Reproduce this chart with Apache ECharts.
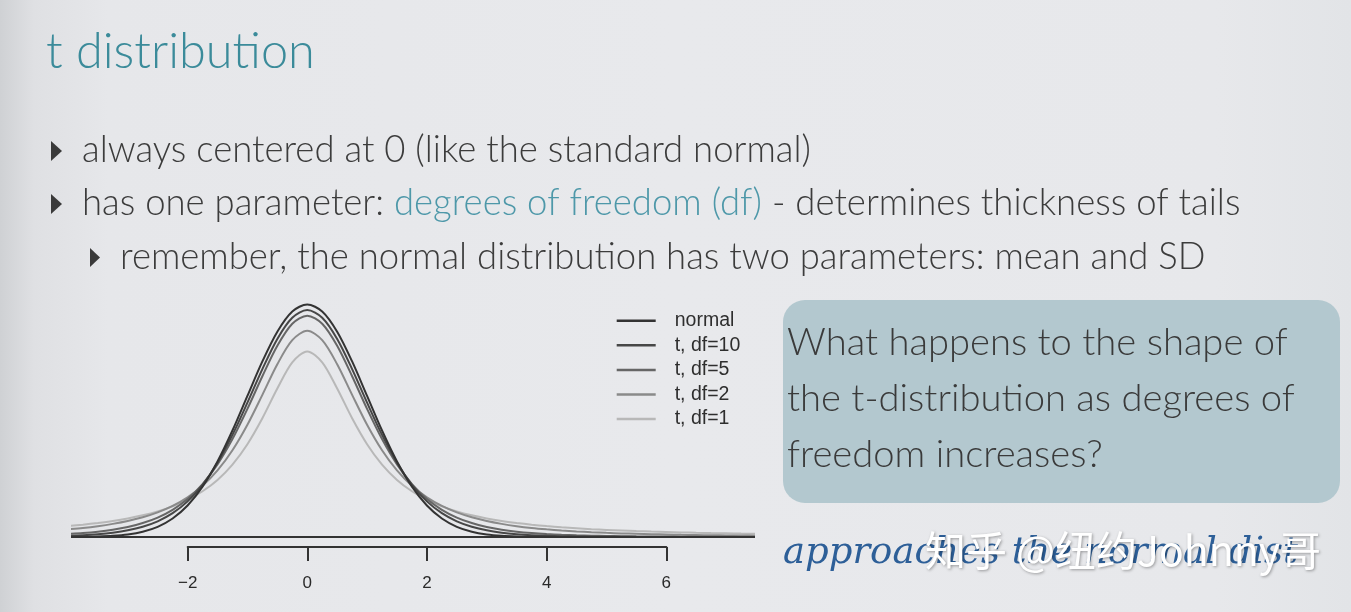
<!DOCTYPE html>
<html>
<head>
<meta charset="utf-8">
<script src="https://cdn.jsdelivr.net/npm/echarts@6/dist/echarts.min.js"></script>
<style>
html,body{margin:0;padding:0;}
#c{width:1351px;height:612px;background:linear-gradient(90deg,#cfd1d4 0%,#dfe0e3 2.5%,#e6e7ea 8%,#e8e9ec 50%,#e7e8eb 90%,#e2e4e7 100%);}
</style>
</head>
<body>
<div id="c"></div>
<script>
// x positions (standard units)
var xs = [-4,-3.75,-3.5,-3.25,-3,-2.75,-2.5,-2.25,-2,-1.75,-1.5,-1.25,-1,-0.75,-0.5,-0.25,
          0,0.25,0.5,0.75,1,1.25,1.5,1.75,2,2.25,2.5,2.75,3,3.25,3.5,3.75,4,
          4.25,4.5,4.75,5,5.25,5.5,5.75,6,6.25,6.5,6.75,7,7.25,7.5];

// density values
var normalVals = [0.0001,0.0004,0.0009,0.0020,0.0044,0.0091,0.0175,0.0317,0.0540,0.0863,0.1295,0.1826,0.2420,0.3011,0.3521,0.3867,
                  0.3989,0.3867,0.3521,0.3011,0.2420,0.1826,0.1295,0.0863,0.0540,0.0317,0.0175,0.0091,0.0044,0.0020,0.0009,0.0004,0.0001,
                  0,0,0,0,0,0,0,0,0,0,0,0,0,0];
var df10Vals = [0.0020,0.0031,0.0048,0.0074,0.0114,0.0176,0.0269,0.0409,0.0611,0.0895,0.1274,0.1751,0.2304,0.2880,0.3397,0.3760,
                0.3891,0.3760,0.3397,0.2880,0.2304,0.1751,0.1274,0.0895,0.0611,0.0409,0.0269,0.0176,0.0114,0.0074,0.0048,0.0031,0.0020,
                0.0013,0.0009,0.0006,0.0004,0.0003,0.0002,0.0001,0.0001,0.0001,0.0001,0,0,0,0];
var df5Vals = [0.0051,0.0068,0.0092,0.0126,0.0173,0.0239,0.0333,0.0466,0.0651,0.0905,0.1245,0.1679,0.2197,0.2757,0.3279,0.3657,
               0.3796,0.3657,0.3279,0.2757,0.2197,0.1679,0.1245,0.0905,0.0651,0.0466,0.0333,0.0239,0.0173,0.0126,0.0092,0.0068,0.0051,
               0.0039,0.0029,0.0023,0.0018,0.0014,0.0011,0.0009,0.0007,0.0006,0.0004,0.0004,0.0003,0.0002,0.0002];
var df2Vals = [0.0131,0.0155,0.0186,0.0225,0.0274,0.0338,0.0422,0.0533,0.0680,0.0878,0.1141,0.1487,0.1925,0.2438,0.2963,0.3376,
               0.3536,0.3376,0.2963,0.2438,0.1925,0.1487,0.1141,0.0878,0.0680,0.0533,0.0422,0.0338,0.0274,0.0225,0.0186,0.0155,0.0131,
               0.0111,0.0095,0.0082,0.0071,0.0062,0.0055,0.0048,0.0043,0.0038,0.0034,0.0030,0.0027,0.0025,0.0022];
var df1Vals = [0.0187,0.0212,0.0241,0.0275,0.0318,0.0372,0.0439,0.0525,0.0637,0.0784,0.0979,0.1242,0.1592,0.2037,0.2546,0.2996,
               0.3183,0.2996,0.2546,0.2037,0.1592,0.1242,0.0979,0.0784,0.0637,0.0525,0.0439,0.0372,0.0318,0.0275,0.0241,0.0212,0.0187,
               0.0167,0.0150,0.0134,0.0122,0.0111,0.0101,0.0093,0.0086,0.0079,0.0073,0.0068,0.0064,0.0059,0.0056];

var seriesNames = ['normal','t, df=10','t, df=5','t, df=2','t, df=1'];
var seriesColors = ['#333333','#474747','#666666','#8a8a8a','#b8b8b8'];
var tickLabels = ['\u22122','0','2','4','6'];
var tickValues = [-2,0,2,4,6];

function pairs(vals){ return xs.map(function(x,i){ return [x, vals[i]]; }); }
var allVals = [normalVals, df10Vals, df5Vals, df2Vals, df1Vals];

var series = [];
for (var k = allVals.length - 1; k >= 0; k--) {
  series.push({
    name: seriesNames[k], type: 'line', xAxisIndex: 0, yAxisIndex: 0,
    data: pairs(allVals[k]), smooth: 0.3, symbol: 'none', silent: true,
    lineStyle: {color: seriesColors[k], width: 2}, itemStyle: {color: seriesColors[k]},
    z: 10 - k
  });
}

var bodyFont = 'Lato, "Open Sans", sans-serif';
var bodySize = '36.5px ';
var chart = echarts.init(document.getElementById('c'));
chart.setOption({
  backgroundColor: 'transparent',
  animation: false,
  grid: [
    {left: 72.7, width: 680.3, top: 292.1, height: 244.9, containLabel: false},
    {left: 187.7, width: 478.6, top: 520, height: 27, containLabel: false}
  ],
  xAxis: [
    {gridIndex: 0, type: 'value', min: -3.92, max: 7.45,
     axisLine: {show: true, onZero: true, lineStyle: {color: '#333', width: 2}},
     axisTick: {show: false}, axisLabel: {show: false}, splitLine: {show: false}},
    {gridIndex: 1, type: 'value', min: -2, max: 6, interval: 2, position: 'bottom',
     axisLine: {show: true, lineStyle: {color: '#333', width: 2}},
     axisTick: {show: true, inside: false, length: 14, lineStyle: {color: '#333', width: 2}},
     axisLabel: {show: true, margin: 28, color: '#2a2a2a', fontSize: 17,
                 fontFamily: '"Liberation Sans", Arial, sans-serif',
                 formatter: function(v){ var i = tickValues.indexOf(v); return i >= 0 ? tickLabels[i] : ''; }},
     splitLine: {show: false}}
  ],
  yAxis: [
    {gridIndex: 0, type: 'value', min: 0, max: 0.42, show: false},
    {gridIndex: 1, type: 'value', min: 0, max: 1, show: false}
  ],
  legend: {
    data: seriesNames, orient: 'vertical', left: 616.7, top: 308.4, padding: 0,
    icon: 'rect', itemWidth: 39, itemHeight: 2.5, itemGap: 0, selectedMode: false,
    textStyle: {fontSize: 19.5, color: '#2e2e2e', fontFamily: '"Liberation Sans", Arial, sans-serif',
                padding: [0, 0, 0, 14], lineHeight: 24.6}
  },
  series: series,
  graphic: [
    {type: 'text', z: 100, silent: true,
     style: {x: 46, y: 52, text: 't distribution', font: '300 48.7px ' + bodyFont, fill: '#3b8b9a', verticalAlign: 'middle', align: 'left'}},
    {type: 'polygon', z: 100, silent: true, shape: {points: [[51,141],[62,151],[51,161]]}, style: {fill: '#3a3a3a'}},
    {type: 'polygon', z: 100, silent: true, shape: {points: [[51,194],[62,204],[51,214]]}, style: {fill: '#3a3a3a'}},
    {type: 'polygon', z: 100, silent: true, shape: {points: [[90,248],[100,257.5],[90,267]]}, style: {fill: '#3a3a3a'}},
    {type: 'text', z: 100, silent: true,
     style: {x: 82, y: 150, text: 'always centered at 0 (like the standard normal)', font: '300 ' + bodySize + bodyFont,
             fill: '#3c3c3c', verticalAlign: 'middle', align: 'left'}},
    {type: 'text', z: 100, silent: true,
     style: {x: 82, y: 203, text: '{a|has one parameter: }{b|degrees of freedom (df)}{a| - determines thickness of tails}',
             font: '300 ' + bodySize + bodyFont, verticalAlign: 'middle', align: 'left',
             rich: {a: {fill: '#3c3c3c', font: '300 ' + bodySize + bodyFont}, b: {fill: '#4e98a9', font: '300 ' + bodySize + bodyFont}}}},
    {type: 'text', z: 100, silent: true,
     style: {x: 120, y: 257, text: 'remember, the normal distribution has two parameters: mean and SD', font: '300 ' + bodySize + bodyFont,
             fill: '#3c3c3c', verticalAlign: 'middle', align: 'left'}},
    {type: 'rect', z: 90, silent: true, shape: {x: 783, y: 300, width: 557, height: 203, r: 22},
     style: {fill: '#b3c8cf'}},
    {type: 'text', z: 100, silent: true,
     style: {x: 787, y: 343, text: 'What happens to the shape of', font: '300 38.2px ' + bodyFont, fill: '#3a3a3a', verticalAlign: 'middle', align: 'left'}},
    {type: 'text', z: 100, silent: true,
     style: {x: 787, y: 399, text: 'the t-distribution as degrees of', font: '300 38.2px ' + bodyFont, fill: '#3a3a3a', verticalAlign: 'middle', align: 'left'}},
    {type: 'text', z: 100, silent: true,
     style: {x: 787, y: 455, text: 'freedom increases?', font: '300 38.2px ' + bodyFont, fill: '#3a3a3a', verticalAlign: 'middle', align: 'left'}},
    {type: 'text', z: 100, silent: true,
     style: {x: 783, y: 553, text: 'approaches the normal dist', font: 'italic 37px "DejaVu Serif", serif', fill: '#2d5f98', verticalAlign: 'middle', align: 'left'}},
    {type: 'text', z: 110, silent: true,
     style: {x: 925, y: 550, text: '知乎 @纽约Johnny哥', font: '41px "Noto Sans CJK SC", sans-serif', fill: '#ffffff',
             textShadowColor: 'rgba(0,0,0,0.35)', textShadowBlur: 3, textShadowOffsetX: 1, textShadowOffsetY: 1,
             verticalAlign: 'middle', align: 'left'}}
  ]
});
</script>
</body>
</html>
